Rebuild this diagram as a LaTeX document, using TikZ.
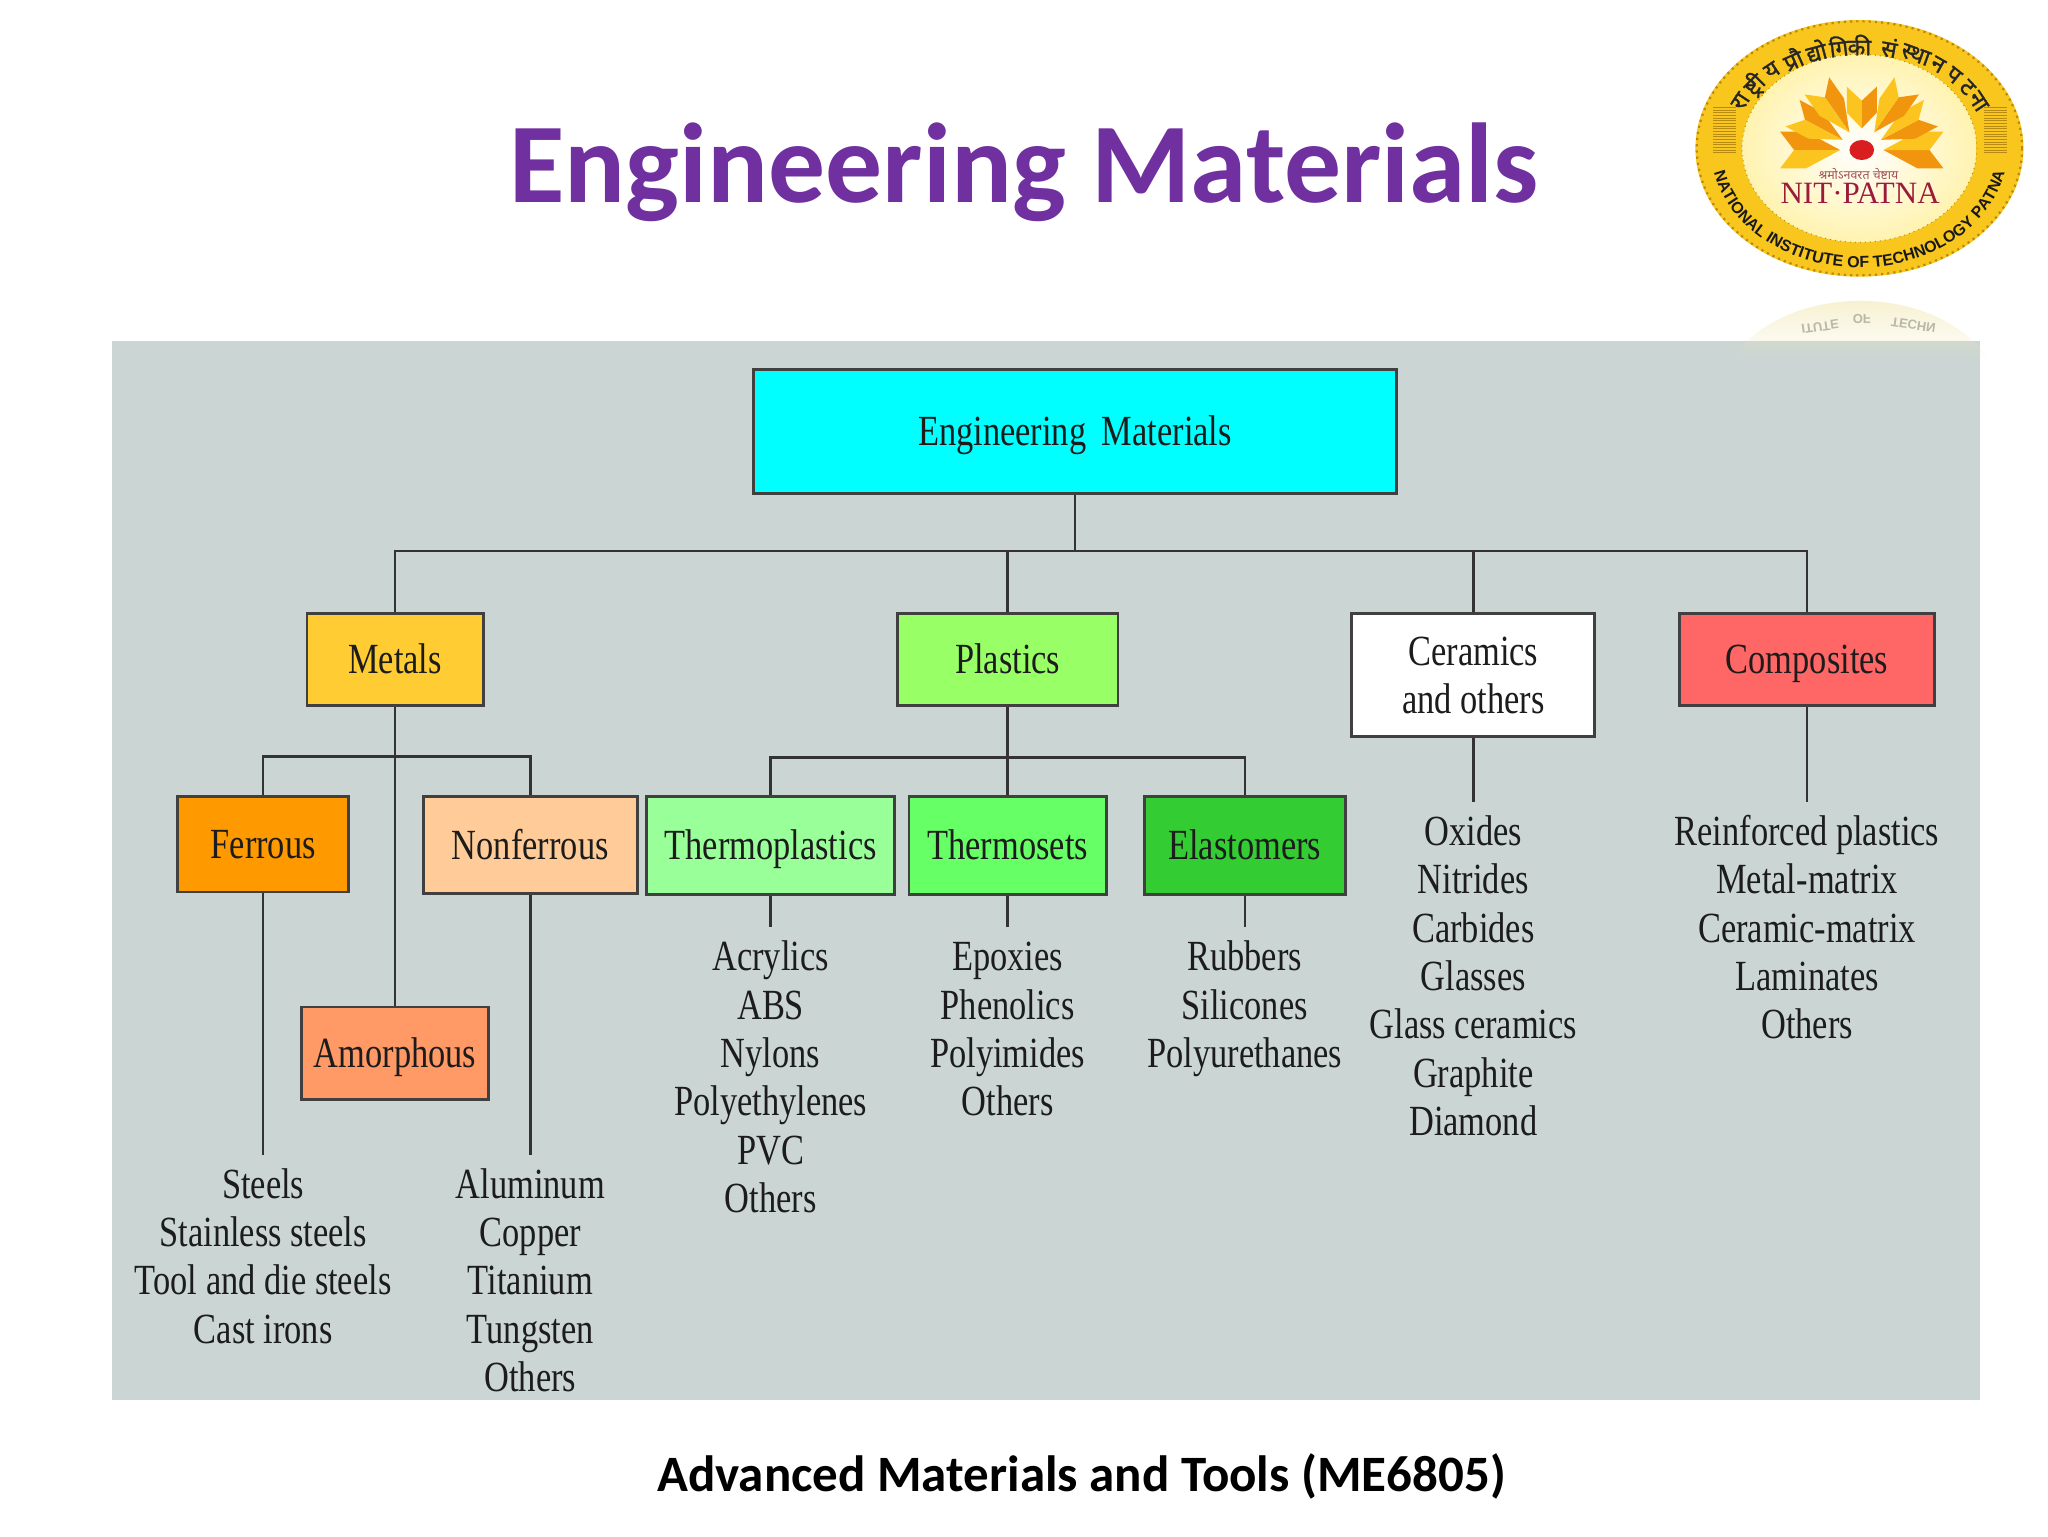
\documentclass[tikz,border=0pt]{standalone}
\usepackage{fontspec}
\usetikzlibrary{decorations.text,fadings}
\setmainfont{Carlito}
\newfontfamily\labfont[FakeStretch=0.8]{Liberation Serif}
\newfontfamily\nitfont{Liberation Serif}
\newfontfamily\logofont{Liberation Sans}
\newfontfamily\devfont[Script=Devanagari]{Noto Sans}
\newfontfamily\devbold[Script=Devanagari,FakeBold=1.3]{Noto Sans}
\definecolor{panel}{HTML}{CBD5D3}
\definecolor{ink}{HTML}{1C1C1C}
\definecolor{titlepurple}{HTML}{7030A0}
\definecolor{gold}{HTML}{F8C61C}
\definecolor{golddark}{HTML}{B98A10}
\definecolor{petalA}{HTML}{FBC41E}
\definecolor{petalB}{HTML}{F1950E}
\definecolor{cTop}{HTML}{00FFFF}
\definecolor{cMetals}{HTML}{FFCC33}
\definecolor{cPlastics}{HTML}{99FF66}
\definecolor{cComposites}{HTML}{FF6666}
\definecolor{cFerrous}{HTML}{FF9900}
\definecolor{cNonferrous}{HTML}{FFCC99}
\definecolor{cAmorphous}{HTML}{FF9966}
\definecolor{cThermoplastics}{HTML}{99FF99}
\definecolor{cThermosets}{HTML}{66FF66}
\definecolor{cElastomers}{HTML}{33CC33}
\definecolor{creamring}{HTML}{FFF3B0}
\definecolor{dotred}{HTML}{D81E1E}
\definecolor{mottored}{HTML}{A0505A}
\definecolor{nitred}{HTML}{9B1B3B}
\definecolor{reflectfill}{HTML}{F3E8B4}
\definecolor{reflecttext}{HTML}{B8B8A8}
\tikzset{
  mbox/.style={draw=black!75,line width=1.4pt,inner sep=0pt,text=ink,align=center,
    font=\labfont\fontsize{21.5}{24.2}\selectfont,text height=18pt,text depth=4pt},
  listing/.style={inner sep=0pt,anchor=north,text=ink,align=center,
    font=\labfont\fontsize{21.5}{24.2}\selectfont},
  link/.style={draw=black!80,line width=1.25pt},
  zoomed/.style={shift={(1271,0)},x=0.16667pt,y=-0.16667pt},
  ringword/.style={font=\devbold\fontsize{11.5}{13}\selectfont,text=black!85,inner sep=0pt},
  mirrored/.style={font=\logofont\bfseries\fontsize{6.5}{8}\selectfont,text=reflecttext,yscale=-1,transform shape},
}
\newcommand{\lead}{\rule{0pt}{21.5pt}}
\newcommand{\bx}[8][]{%
  \pgfmathsetmacro\bxw{(#5-#3)*0.65306}%
  \pgfmathsetmacro\bxh{(#6-#4)*0.65306}%
  \node[mbox,fill=#7,minimum width=\bxw pt,minimum height=\bxh pt,#1] (#2) at ({(#3+#5)/2},{(#4+#6)/2}) {#8};}
\newcommand{\lotuspetal}[3]{%
  \begin{scope}[shift={(605,450)},rotate=#1]
    \fill[petalB] (65,0) -- (#2-78,#3) -- (#2,#3) -- (#2-42,0) -- cycle;
    \fill[petalA] (65,0) -- (#2-78,-#3) -- (#2,-#3) -- (#2-42,0) -- cycle;
  \end{scope}}
\newcommand{\ringglyph}[3]{%
  \pgfmathsetmacro\ringrot{atan2(-310*cos(#2),400*sin(#2))}%
  \node[ringword,rotate=\ringrot] (#1) at ({598+400*cos(#2)},{445-310*sin(#2)}) {#3};}
\begin{document}
\begin{tikzpicture}[x=0.65306pt,y=-0.65306pt]
\useasboundingbox (0,0) rectangle (1568,1176);
\fill[white] (0,0) rectangle (1568,1176);
\fill[panel] (86,261) rectangle (1516,1072);

% title and footer
\node[font=\bfseries\fontsize{56.8}{60}\selectfont,text=titlepurple] (title) at (784,132) {Engineering Materials};
\node[font=\bfseries\fontsize{25.5}{28}\selectfont,text=black] (footer) at (828,1130) {Advanced Materials and Tools (ME6805)};

% boxes
\bx{top}{577}{283}{1069}{378}{cTop}{Engineering\, Materials}
\bx{metals}{235}{470}{370}{540}{cMetals}{Metals}
\bx{plastics}{687}{470}{856}{540}{cPlastics}{Plastics}
\bx[text height=,text depth=]{ceramics}{1035}{470}{1221}{564}{white}{Ceramics\\and others}
\bx{composites}{1286}{470}{1481}{540}{cComposites}{Composites}
\bx{ferrous}{136}{610}{267}{683}{cFerrous}{Ferrous}
\bx{nonferrous}{324}{610}{488}{684}{cNonferrous}{Nonferrous}
\bx{amorphous}{231}{771}{374}{842}{cAmorphous}{Amorphous}
\bx{thermoplastics}{495}{610}{685}{685}{cThermoplastics}{Thermoplastics}
\bx{thermosets}{696}{610}{847}{685}{cThermosets}{Thermosets}
\bx{elastomers}{876}{610}{1030}{685}{cElastomers}{Elastomers}

% lists
\node[listing] (lferrous) at (201.5,884) {\lead Steels\\Stainless steels\\Tool and die steels\\Cast irons};
\node[listing] (lnonferrous) at (406,884) {\lead Aluminum\\Copper\\Titanium\\Tungsten\\Others};
\node[listing] (lthermoplastics) at (590,710) {\lead Acrylics\\ABS\\Nylons\\Polyethylenes\\PVC\\Others};
\node[listing] (lthermosets) at (771.5,710) {\lead Epoxies\\Phenolics\\Polyimides\\Others};
\node[listing] (lelastomers) at (953,710) {\lead Rubbers\\Silicones\\Polyurethanes};
\node[listing] (lceramics) at (1128,614) {\lead Oxides\\Nitrides\\Carbides\\Glasses\\Glass ceramics\\Graphite\\Diamond};
\node[listing] (lcomposites) at (1383.5,614) {\lead Reinforced plastics\\Metal-matrix\\Ceramic-matrix\\Laminates\\Others};

% connectors
\coordinate (busA) at (823,422);
\coordinate (busB) at (302.5,579);
\coordinate (busC) at (771.5,580);
\draw[link] (top.south) -- (busA);
\draw[link] (metals.north) |- (busA) -| (composites.north);
\draw[link] (plastics.north) -- (plastics.north |- busA);
\draw[link] (ceramics.north) -- (ceramics.north |- busA);
\draw[link] (metals.south) -- (amorphous.north);
\draw[link] (ferrous.north) |- (busB) -| (nonferrous.north);
\draw[link] (plastics.south) -- (thermosets.north);
\draw[link] (thermoplastics.north) |- (busC) -| (elastomers.north);
\draw[link] (ferrous.south) -- (lferrous.north);
\draw[link] (nonferrous.south) -- (lnonferrous.north);
\draw[link] (thermoplastics.south) -- (lthermoplastics.north);
\draw[link] (thermosets.south) -- (lthermosets.north);
\draw[link] (elastomers.south) -- (lelastomers.north);
\draw[link] (ceramics.south) -- (lceramics.north);
\draw[link] (composites.south) -- (lcomposites.north);

% logo
\begin{scope}[zoomed]
  \fill[gold] (598,445) ellipse [x radius=492,y radius=385];
  \draw[golddark,line width=1.1pt,dotted] (598,445) ellipse [x radius=488,y radius=381];
  \shade[inner color=white,outer color=creamring] (598,445) ellipse [x radius=352,y radius=282];
  \draw[golddark,line width=0.5pt,dotted] (598,445) ellipse [x radius=352,y radius=282];
  \foreach \yy in {322,330,...,460} {
    \draw[golddark,line width=0.3pt] (160,\yy) -- (228,\yy);
    \draw[golddark,line width=0.3pt] (972,\yy) -- (1040,\yy);
  }
  \lotuspetal{180}{245}{55}
  \lotuspetal{0}{245}{55}
  \lotuspetal{152}{235}{45}
  \lotuspetal{28}{235}{45}
  \lotuspetal{125}{235}{45}
  \lotuspetal{55}{235}{45}
  \lotuspetal{90}{190}{45}
  \fill[dotred] (605,450) ellipse [x radius=37,y radius=30];
  \node[font=\devfont\fontsize{6.2}{7}\selectfont,text=mottored] (motto) at (595,522) {श्रमोऽनवरत चेष्टाय};
  \node[font=\nitfont\fontsize{15.5}{17}\selectfont,text=nitred] (nit) at (600,580) {NIT·PATNA};
  \path[decorate,decoration={text along path,text align=center,
      text={|\logofont\bfseries\fontsize{8}{9}\selectfont\color{black!90}|NATIONAL INSTITUTE OF TECHNOLOGY PATNA}}]
    ({598+445*cos(175)},{445+358*sin(175)}) arc[start angle=175,end angle=5,x radius=445,y radius=358];
  \ringglyph{g1}{153}{रा}
  \ringglyph{g2}{142}{ष्ट्री}
  \ringglyph{g3}{131}{य}
  \ringglyph{g4}{120}{प्रौ}
  \ringglyph{g5}{109}{द्यो}
  \ringglyph{g6}{99}{गि}
  \ringglyph{g7}{90}{की}
  \ringglyph{g8}{77}{सं}
  \ringglyph{g9}{65}{स्था}
  \ringglyph{g10}{54}{न}
  \ringglyph{g11}{45}{प}
  \ringglyph{g12}{36}{ट}
  \ringglyph{g13}{27}{ना}
  % reflection
  \fill[reflectfill,path fading=south,opacity=.8] (215,1075) .. controls (380,845) and (820,845) .. (985,1075) -- cycle;
  \node[mirrored,rotate=-8] (r1) at (480,980) {ITUTE};
  \node[mirrored] (r2) at (605,958) {OF};
  \node[mirrored,rotate=8] (r3) at (760,975) {TECHN};
\end{scope}
\end{tikzpicture}
\end{document}
